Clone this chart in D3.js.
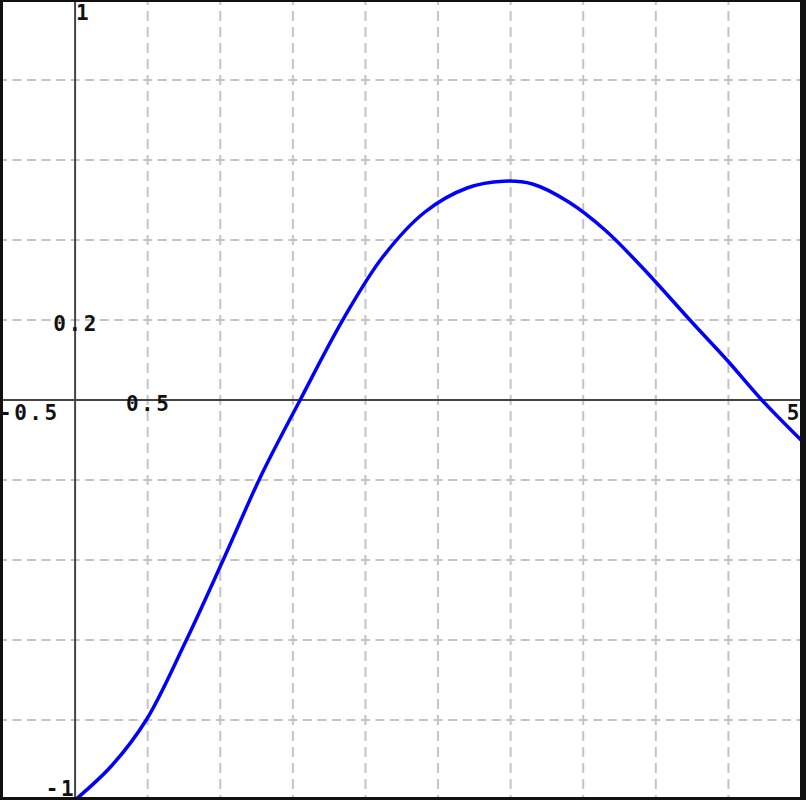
<!DOCTYPE html>
<html>
<head>
<meta charset="utf-8">
<script src="https://cdn.jsdelivr.net/npm/d3@7"></script>
<style>
  body { margin: 0; background: #fff; }
  svg { display: block; }
  .lbl { font-family: "DejaVu Sans Mono", monospace; font-weight: bold; font-size: 21px; letter-spacing: 2.5px; fill: #111; }
</style>
</head>
<body>
<div class="data_figure"></div>
<script>
// curve points
const curveX = [0, 0.25, 0.49, 0.76, 1.02, 1.28, 1.55, 1.85, 2.12, 2.41, 2.70, 2.95,
                3.15, 3.40, 3.65, 3.91, 4.26, 4.49, 4.73, 5.0];
const curveY = [-1.0, -0.915, -0.80, -0.605, -0.40, -0.19, 0.0, 0.204, 0.358, 0.470, 0.530, 0.547,
                0.540, 0.495, 0.425, 0.330, 0.190, 0.100, 0.0, -0.10];

const xGridValues = [0.5, 1, 1.5, 2, 2.5, 3, 3.5, 4, 4.5];
const yGridValues = [0.8, 0.6, 0.4, 0.2, -0.2, -0.4, -0.6, -0.8];

const xTickValues = [-0.5, 0.5, 5];
const xTickLabels = ["-0.5", "0.5", "5"];
const yTickValues = [1, 0.2, -1];
const yTickLabels = ["1", "0.2", "-1"];

const width = 806;
const height = 800;

const xScale = d3.scaleLinear().domain([-0.5, 5]).range([2.5, 801]);
const yScale = d3.scaleLinear().domain([1, -1]).range([0, 800]);

const svg = d3.select(".data_figure")
    .append("svg")
    .attr("width", width)
    .attr("height", height);

svg.append("rect")
    .attr("width", width)
    .attr("height", height)
    .attr("fill", "#fff");

// dashed grid
const cellW = xScale(0.5) - xScale(0);
const cellH = yScale(0.8) - yScale(1);

svg.selectAll(".vgrid")
    .data(xGridValues)
    .enter()
    .append("line")
    .attr("class", "vgrid")
    .attr("x1", d => xScale(d))
    .attr("x2", d => xScale(d))
    .attr("y1", yScale(1))
    .attr("y2", yScale(-1))
    .attr("stroke", "#c4c4c4")
    .attr("stroke-width", 2)
    .attr("stroke-dasharray", (cellH / 5 * 0.62) + "," + (cellH / 5 * 0.38))
    .attr("stroke-dashoffset", cellH / 5 * 0.31);

svg.selectAll(".hgrid")
    .data(yGridValues)
    .enter()
    .append("line")
    .attr("class", "hgrid")
    .attr("x1", xScale(-0.5))
    .attr("x2", xScale(5))
    .attr("y1", d => yScale(d))
    .attr("y2", d => yScale(d))
    .attr("stroke", "#c4c4c4")
    .attr("stroke-width", 2)
    .attr("stroke-dasharray", (cellW / 5 * 0.62) + "," + (cellW / 5 * 0.38))
    .attr("stroke-dashoffset", cellW / 5 * 0.31);

// axes through zero
svg.append("line")
    .attr("x1", 0).attr("x2", width)
    .attr("y1", yScale(0)).attr("y2", yScale(0))
    .attr("stroke", "#444")
    .attr("stroke-width", 2);

svg.append("line")
    .attr("x1", xScale(0)).attr("x2", xScale(0))
    .attr("y1", 0).attr("y2", height)
    .attr("stroke", "#444")
    .attr("stroke-width", 2);

// curve
const pts = curveX.map((x, i) => [x, curveY[i]]);
const line = d3.line()
    .x(d => xScale(d[0]))
    .y(d => yScale(d[1]))
    .curve(d3.curveCatmullRom.alpha(0.5));

svg.append("path")
    .datum(pts)
    .attr("d", line)
    .attr("fill", "none")
    .attr("stroke", "#0000ff")
    .attr("stroke-width", 3.5)
    .attr("stroke-linejoin", "round");

// tick labels
svg.selectAll(".xlbl")
    .data(xTickValues)
    .enter()
    .append("text")
    .attr("class", "lbl")
    .attr("x", (d, i) => {
        if (i === 0) return -1;
        return xScale(d) + 1;
    })
    .attr("y", (d, i) => (i === 0 || i === xTickValues.length - 1) ? yScale(0) + 20 : yScale(0) + 11)
    .attr("text-anchor", (d, i) => {
        if (i === 0) return "start";
        if (i === xTickValues.length - 1) return "end";
        return "middle";
    })
    .text((d, i) => xTickLabels[i]);

svg.selectAll(".ylbl")
    .data(yTickValues)
    .enter()
    .append("text")
    .attr("class", "lbl")
    .attr("x", xScale(0) + 1)
    .attr("y", (d, i) => {
        if (i === 0) return yScale(d) + 20;
        if (i === yTickValues.length - 1) return yScale(d) - 4;
        return yScale(d) + 11;
    })
    .attr("text-anchor", (d, i) => {
        if (i === 0) return "start";
        if (i === yTickValues.length - 1) return "end";
        return "middle";
    })
    .text((d, i) => yTickLabels[i]);

// frame
svg.append("rect").attr("x", 0).attr("y", 0).attr("width", 3).attr("height", height).attr("fill", "#111");
svg.append("rect").attr("x", 800).attr("y", 0).attr("width", 6).attr("height", height).attr("fill", "#111");
svg.append("rect").attr("x", 0).attr("y", 0).attr("width", width).attr("height", 2).attr("fill", "#111");
svg.append("rect").attr("x", 0).attr("y", 797).attr("width", width).attr("height", 3).attr("fill", "#111");
</script>
</body>
</html>
